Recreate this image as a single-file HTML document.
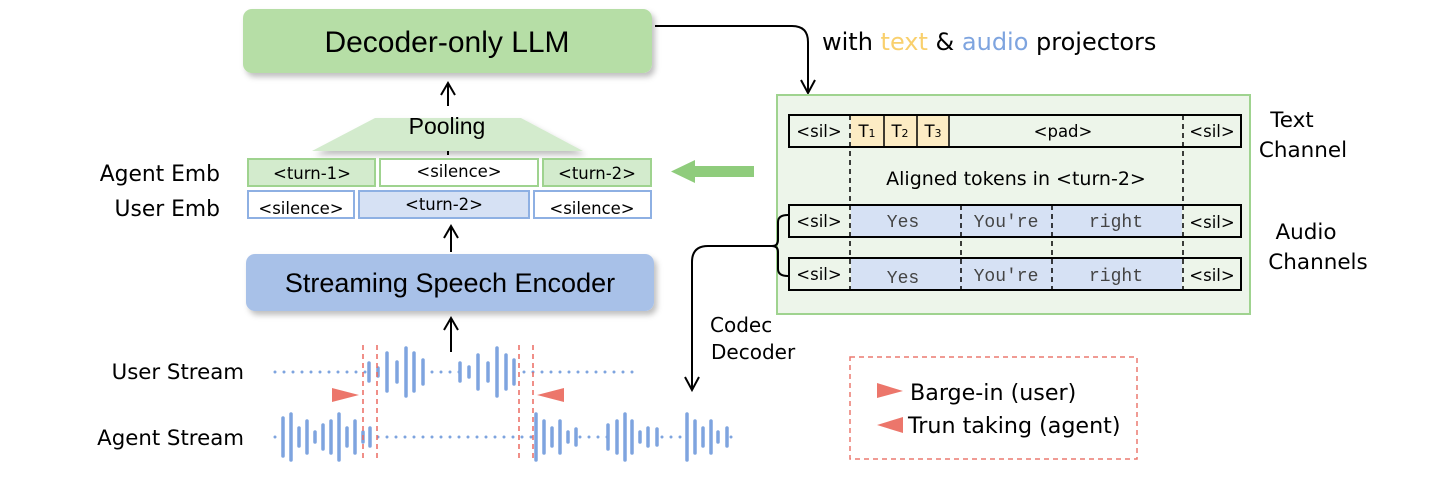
<!DOCTYPE html>
<html><head><meta charset="utf-8"><style>
body{margin:0;background:#fff;}
svg{display:block;font-family:"DejaVu Sans",sans-serif;}
.m{font-family:"Liberation Mono",monospace;}
.l{font-family:"Liberation Sans",sans-serif;}
</style></head><body>
<svg width="1456" height="487" viewBox="0 0 1456 487" xmlns="http://www.w3.org/2000/svg">
<defs>
<filter id="sh" x="-10%" y="-20%" width="130%" height="160%"><feDropShadow dx="3" dy="4" stdDeviation="3" flood-color="#000" flood-opacity="0.25"/></filter>
</defs>
<rect x="243" y="9" width="409" height="64" rx="9" fill="#b6dea6" filter="url(#sh)"/>
<text class="l" x="447" y="52" font-size="30" text-anchor="middle">Decoder-only LLM</text>
<g stroke="#000" stroke-width="2" fill="none">
<line x1="448" y1="106" x2="448" y2="84"/><path d="M441,95 L448,83 L455,95"/>
<line x1="448" y1="140" x2="448" y2="155"/>
<line x1="451" y1="252" x2="451" y2="226"/><path d="M444,238 L451,226 L458,238"/>
<line x1="451" y1="352" x2="451" y2="318"/><path d="M444,330 L451,318 L458,330"/>
</g>
<polygon points="375,118 521,118 583,151 312,151" fill="#d3ebcd" filter="url(#sh)"/>
<text class="l" x="447" y="134" font-size="23" text-anchor="middle">Pooling</text>
<text x="220" y="181" font-size="21.8" text-anchor="end">Agent Emb</text>
<text x="220" y="216" font-size="21.8" text-anchor="end">User Emb</text>
<g stroke-width="2" font-size="16.5" text-anchor="middle">
<rect x="248" y="159" width="127" height="27" fill="#d3ebcd" stroke="#9fd38f"/>
<text x="312" y="179" stroke="none">&lt;turn-1&gt;</text>
<rect x="380" y="159" width="158" height="27" fill="#fff" stroke="#9fd38f"/>
<text x="459" y="177" stroke="none">&lt;silence&gt;</text>
<rect x="543" y="159" width="108" height="27" fill="#d3ebcd" stroke="#9fd38f"/>
<text x="597" y="179" stroke="none">&lt;turn-2&gt;</text>
<rect x="248" y="191" width="106" height="27" fill="#fff" stroke="#8eb0e3"/>
<text x="301" y="214" stroke="none">&lt;silence&gt;</text>
<rect x="359" y="191" width="170" height="27" fill="#d6e1f4" stroke="#8eb0e3"/>
<text x="444" y="210" stroke="none">&lt;turn-2&gt;</text>
<rect x="534" y="191" width="117" height="27" fill="#fff" stroke="#8eb0e3"/>
<text x="592" y="214" stroke="none">&lt;silence&gt;</text>
</g>
<rect x="246" y="254" width="408" height="57" rx="9" fill="#a8c1e8" filter="url(#sh)"/>
<text class="l" x="450" y="292" font-size="27" text-anchor="middle">Streaming Speech Encoder</text>
<text x="244" y="379" font-size="21.3" text-anchor="end">User Stream</text>
<text x="244" y="445" font-size="21.3" text-anchor="end">Agent Stream</text>
<g stroke="#7ea4df" stroke-width="3" stroke-linecap="round" stroke-dasharray="0 9" fill="none">
<line x1="275" y1="372" x2="368" y2="372"/>
<line x1="432" y1="372" x2="460" y2="372"/>
<line x1="524" y1="372" x2="636" y2="372"/>
<line x1="275" y1="437" x2="283" y2="437"/>
<line x1="378" y1="437" x2="535" y2="437"/>
<line x1="580" y1="437" x2="608" y2="437"/>
<line x1="662" y1="437" x2="688" y2="437"/>
<line x1="731" y1="437" x2="737" y2="437"/>
</g>
<g stroke="#7ea4df" stroke-width="3.5" stroke-linecap="round">
<line x1="369" y1="363" x2="369" y2="381"/><line x1="378" y1="368" x2="378" y2="376"/><line x1="387" y1="353" x2="387" y2="391"/><line x1="397" y1="362" x2="397" y2="382"/><line x1="406" y1="348" x2="406" y2="396"/><line x1="414" y1="353" x2="414" y2="391"/><line x1="423" y1="360" x2="423" y2="384"/>
<line x1="460" y1="363" x2="460" y2="381"/><line x1="469" y1="367" x2="469" y2="377"/><line x1="478" y1="355" x2="478" y2="389"/><line x1="488" y1="363" x2="488" y2="381"/><line x1="497" y1="348" x2="497" y2="396"/><line x1="506" y1="355" x2="506" y2="389"/><line x1="514" y1="360" x2="514" y2="384"/>
<line x1="283" y1="418" x2="283" y2="456"/><line x1="291" y1="414" x2="291" y2="460"/><line x1="299" y1="428" x2="299" y2="446"/><line x1="307" y1="421" x2="307" y2="453"/><line x1="315" y1="432" x2="315" y2="442"/><line x1="323" y1="425" x2="323" y2="449"/><line x1="331" y1="421" x2="331" y2="453"/><line x1="339" y1="414" x2="339" y2="460"/><line x1="347" y1="428" x2="347" y2="446"/><line x1="355" y1="421" x2="355" y2="453"/><line x1="363" y1="432" x2="363" y2="442"/><line x1="370" y1="428" x2="370" y2="446"/>
<line x1="536" y1="414" x2="536" y2="460"/><line x1="544" y1="421" x2="544" y2="453"/><line x1="552" y1="428" x2="552" y2="446"/><line x1="560" y1="421" x2="560" y2="453"/><line x1="568" y1="432" x2="568" y2="442"/><line x1="576" y1="429" x2="576" y2="445"/>
<line x1="608" y1="425" x2="608" y2="449"/><line x1="617" y1="421" x2="617" y2="453"/><line x1="625" y1="414" x2="625" y2="460"/><line x1="632" y1="421" x2="632" y2="453"/><line x1="640" y1="432" x2="640" y2="442"/><line x1="648" y1="428" x2="648" y2="446"/><line x1="657" y1="429" x2="657" y2="445"/>
<line x1="687" y1="414" x2="687" y2="460"/><line x1="695" y1="421" x2="695" y2="453"/><line x1="703" y1="428" x2="703" y2="446"/><line x1="711" y1="421" x2="711" y2="453"/><line x1="718" y1="432" x2="718" y2="442"/><line x1="727" y1="428" x2="727" y2="446"/>
</g>
<g stroke="#ec6a60" stroke-width="1.5" stroke-dasharray="5 4">
<line x1="363" y1="345" x2="363" y2="462"/><line x1="377" y1="345" x2="377" y2="462"/>
<line x1="519" y1="345" x2="519" y2="462"/><line x1="533" y1="345" x2="533" y2="462"/>
</g>
<polygon points="332,388 359,395 332,402" fill="#ec766b"/>
<polygon points="564,388 537,395 564,402" fill="#ec766b"/>
<path d="M655,26 L792,26 Q808,26 808,42 L808,92" stroke="#000" stroke-width="2" fill="none"/>
<path d="M801,80 L808,93 L815,80" stroke="#000" stroke-width="2" fill="none"/>
<text x="822" y="50" font-size="24">with <tspan fill="#f9d06d">text</tspan> &amp; <tspan fill="#7ea4df">audio</tspan> projectors</text>
<rect x="777" y="95" width="473" height="219" fill="#edf5ea" stroke="#9fd38f" stroke-width="2"/>
<rect x="692" y="166" width="62" height="11" fill="#8fcc7c"/>
<polygon points="671,171.5 695,160 695,183" fill="#8fcc7c"/>
<rect x="789" y="115" width="452" height="32" fill="#edf5ea" stroke="#000" stroke-width="2"/>
<rect x="851" y="116" width="98" height="30" fill="#fcecc4"/>
<g stroke="#000" stroke-width="1.5"><line x1="884" y1="115" x2="884" y2="147"/><line x1="917" y1="115" x2="917" y2="147"/><line x1="949" y1="115" x2="949" y2="147"/></g>
<g font-size="16.5" text-anchor="middle">
<text x="819" y="137">&lt;sil&gt;</text>
<text x="867" y="137">T<tspan font-size="11">1</tspan></text>
<text x="900" y="137">T<tspan font-size="11">2</tspan></text>
<text x="933" y="137">T<tspan font-size="11">3</tspan></text>
<text x="1063" y="137">&lt;pad&gt;</text>
<text x="1212" y="137">&lt;sil&gt;</text>
<text x="1016" y="185" font-size="19">Aligned tokens in &lt;turn-2&gt;</text>
</g>
<rect x="789" y="205" width="452" height="32" fill="#edf5ea" stroke="#000" stroke-width="2"/>
<rect x="851" y="206" width="331" height="30" fill="#d6e1f4"/>
<rect x="789" y="258" width="452" height="32" fill="#edf5ea" stroke="#000" stroke-width="2"/>
<rect x="851" y="259" width="331" height="30" fill="#d6e1f4"/>
<g stroke="#000" stroke-width="1.5" stroke-dasharray="5 4">
<line x1="850" y1="115" x2="850" y2="290"/><line x1="1183" y1="115" x2="1183" y2="290"/>
<line x1="961" y1="205" x2="961" y2="290"/><line x1="1052" y1="205" x2="1052" y2="290"/>
</g>
<g font-size="16.5" text-anchor="middle">
<text x="819" y="227">&lt;sil&gt;</text><text x="1212" y="228">&lt;sil&gt;</text>
<text x="819" y="280">&lt;sil&gt;</text><text x="1212" y="281">&lt;sil&gt;</text>
</g>
<g class="m" font-size="18" text-anchor="middle" fill="#444">
<text x="903" y="227">Yes</text><text x="1006" y="227">You're</text><text x="1116" y="227">right</text>
<text x="903" y="283">Yes</text><text x="1006" y="281">You're</text><text x="1116" y="281">right</text>
</g>
<text x="1292" y="127" font-size="21.5" text-anchor="middle">Text</text>
<text x="1303" y="157" font-size="21.5" text-anchor="middle">Channel</text>
<text x="1306" y="239" font-size="21.5" text-anchor="middle">Audio</text>
<text x="1318" y="269" font-size="21.5" text-anchor="middle">Channels</text>
<path d="M788,215 Q778,215 778,222 L778,240 Q778,246 772,246 Q778,246 778,252 L778,269 Q778,276 788,276" stroke="#000" stroke-width="2" fill="none"/>
<path d="M772,246 L708,246 Q692,246 692,262 L692,390" stroke="#000" stroke-width="2" fill="none"/>
<path d="M685,377 L692,390 L699,377" stroke="#000" stroke-width="2" fill="none"/>
<text x="710" y="332" font-size="20">Codec</text>
<text x="711" y="359" font-size="20">Decoder</text>
<rect x="850" y="357" width="287" height="102" fill="none" stroke="#ec7a70" stroke-width="1.5" stroke-dasharray="5 4"/>
<polygon points="877,383 903,391 877,398" fill="#ec766b"/>
<polygon points="903,417 877,425 903,433" fill="#ec766b"/>
<text x="910" y="400" font-size="22.2">Barge-in (user)</text>
<text x="908" y="433" font-size="22.2">Trun taking (agent)</text>
</svg>
</body></html>
